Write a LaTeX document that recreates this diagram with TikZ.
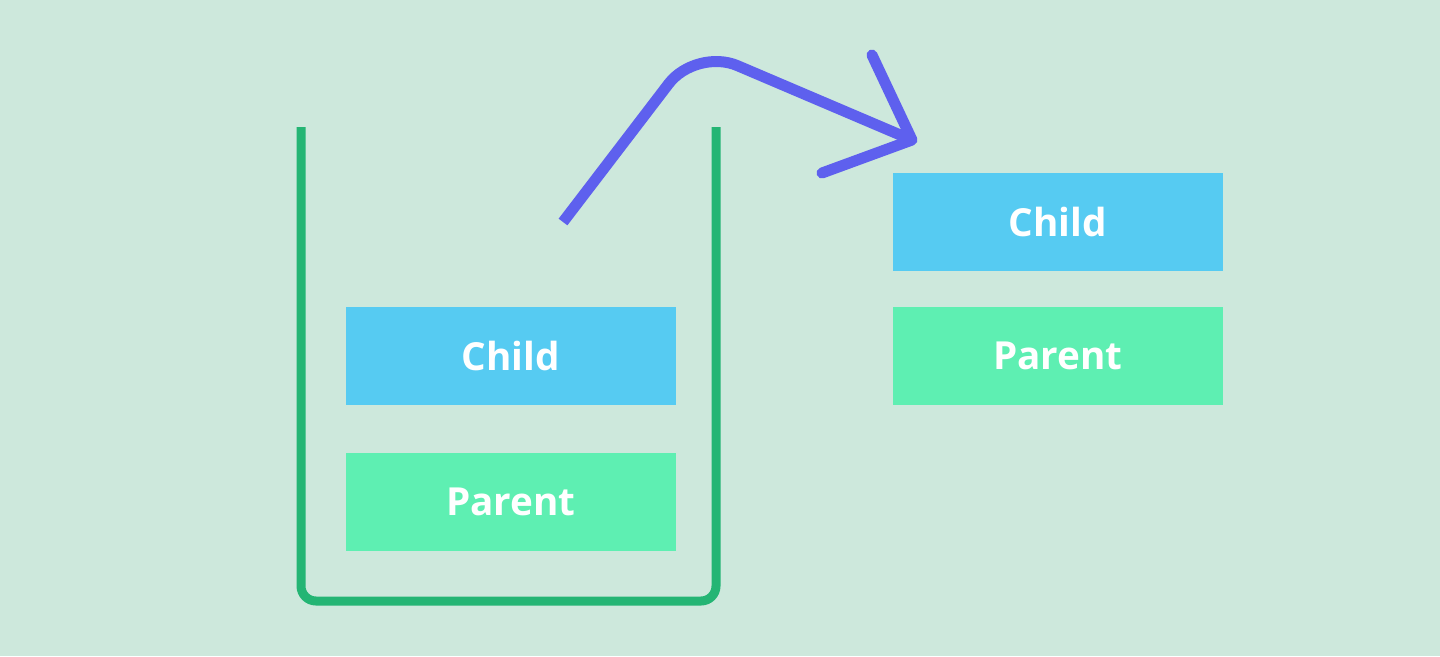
\documentclass[tikz,border=0pt]{standalone}
\usepackage{fontspec}
\setmainfont{Open Sans}
\begin{document}
\begin{tikzpicture}[x=0.02cm, y=-0.02cm]
  % Define colors
  \definecolor{bgcolor}{HTML}{CDE8DC}
  \definecolor{childcolor}{HTML}{56CBF2}
  \definecolor{parentcolor}{HTML}{5EEFB2}
  \definecolor{stackcolor}{HTML}{24B574}
  \definecolor{arrowcolor}{HTML}{5E60EE}
  \tikzset{
    frame/.style={minimum width=6.6cm, minimum height=1.96cm, inner sep=0pt,
      text=white, font=\bfseries\fontsize{22}{26}\selectfont},
    childbox/.style={frame, fill=childcolor},
    parentbox/.style={frame, fill=parentcolor}
  }

  % Background
  \fill[bgcolor] (0,0) rectangle (1440,656);

  % Stack container
  \draw[stackcolor, line width=9\pgflinewidth/0.4*0.02cm/1pt, line width=0.18cm, rounded corners=0.3cm]
    (301,127) -- (301,601) -- (716,601) -- (716,127);

  % Boxes inside the stack
  \node[childbox] (stackchild) at (511,356) {Child};
  \node[parentbox] (stackparent) at (511,502) {Parent};

  % Boxes outside
  \node[childbox] (popchild) at (1058,222) {Child};
  \node[parentbox] (popparent) at (1058,356) {Parent};

  % Pop arrow
  \coordinate (popstart) at (563,222);
  \coordinate (popend) at (912,140);
  \draw[arrowcolor, line width=0.22cm, rounded corners=0.9cm]
    (popstart) -- (696,48) -- (popend);
  \draw[arrowcolor, line width=0.22cm, line cap=round, line join=round]
    (872,55) -- (popend) -- (822,173);
\end{tikzpicture}
\end{document}
